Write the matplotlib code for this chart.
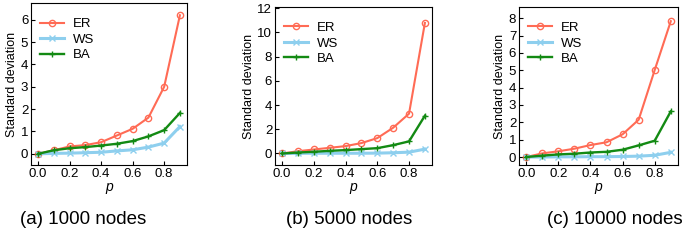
import numpy as np
import matplotlib
matplotlib.use('Agg')
import matplotlib.pyplot as plt

plt.rcParams['font.family'] = ['Liberation Sans', 'DejaVu Sans']

p = [0.0, 0.1, 0.2, 0.3, 0.4, 0.5, 0.6, 0.7, 0.8, 0.9]

# (a) 1000 nodes
er_1000 = [0.0, 0.16, 0.33, 0.39, 0.52, 0.82, 1.12, 1.62, 3.0, 6.2]
ws_1000 = [0.0, 0.02, 0.03, 0.05, 0.07, 0.13, 0.18, 0.30, 0.48, 1.22]
ba_1000 = [0.0, 0.16, 0.25, 0.30, 0.37, 0.45, 0.57, 0.78, 1.06, 1.83]

# (b) 5000 nodes
er_5000 = [0.0, 0.19, 0.33, 0.47, 0.61, 0.86, 1.27, 2.13, 3.29, 10.78]
ws_5000 = [0.0, 0.01, 0.02, 0.02, 0.02, 0.02, 0.03, 0.06, 0.11, 0.36]
ba_5000 = [0.0, 0.08, 0.14, 0.22, 0.28, 0.36, 0.44, 0.69, 1.0, 3.12]

# (c) 10000 nodes
er_10000 = [0.0, 0.21, 0.33, 0.48, 0.69, 0.85, 1.31, 2.15, 5.02, 7.83]
ws_10000 = [0.0, 0.0, 0.01, 0.01, 0.02, 0.02, 0.03, 0.05, 0.10, 0.27]
ba_10000 = [0.0, 0.08, 0.15, 0.19, 0.26, 0.30, 0.42, 0.67, 0.94, 2.63]

captions = ['(a) 1000 nodes', '(b) 5000 nodes', '(c) 10000 nodes']
yticks = [range(0, 7), range(0, 13, 2), range(0, 9)]
ylims = [(-0.5, 6.75), (-0.95, 12.1), (-0.46, 8.65)]

fig = plt.figure(figsize=(6.85, 2.41), dpi=100)
rects = [[0.0453, 0.3154, 0.2277, 0.6722],
         [0.4015, 0.3154, 0.2292, 0.6556],
         [0.7577, 0.3154, 0.2321, 0.6556]]
caption_x = [0.122, 0.51, 0.898]

series = [(er_1000, ws_1000, ba_1000),
          (er_5000, ws_5000, ba_5000),
          (er_10000, ws_10000, ba_10000)]

for i in range(3):
    ax = fig.add_axes(rects[i])
    er, ws, ba = series[i]
    ax.plot(p, er, color='#ff6b55', marker='o', ms=4.5, mfc='none', mew=1, lw=1.5, label='ER')
    ax.plot(p, ws, color='#8ecfee', marker='x', ms=4, mew=1, lw=2.2, label='WS')
    ax.plot(p, ba, color='#138a13', marker='+', ms=5, mew=1, lw=1.7, label='BA')
    ax.set_ylim(*ylims[i])
    ax.set_yticks(list(yticks[i]))
    ax.set_xticks([0.0, 0.2, 0.4, 0.6, 0.8])
    ax.tick_params(direction='in', length=3, labelsize=9.5, pad=2)
    ax.set_xlabel('p', fontsize=10, style='italic', labelpad=0)
    ax.set_ylabel('Standard deviation', fontsize=9, labelpad=2)
    ax.legend(loc='upper left', bbox_to_anchor=(0, 0.965), frameon=False, fontsize=9.5,
              handlelength=1.8, handletextpad=0.7, borderaxespad=0.3, labelspacing=0.25)
    fig.text(caption_x[i], 0.09, captions[i], ha='center', va='center', fontsize=13.5)

plt.savefig('out.png', dpi=100)
